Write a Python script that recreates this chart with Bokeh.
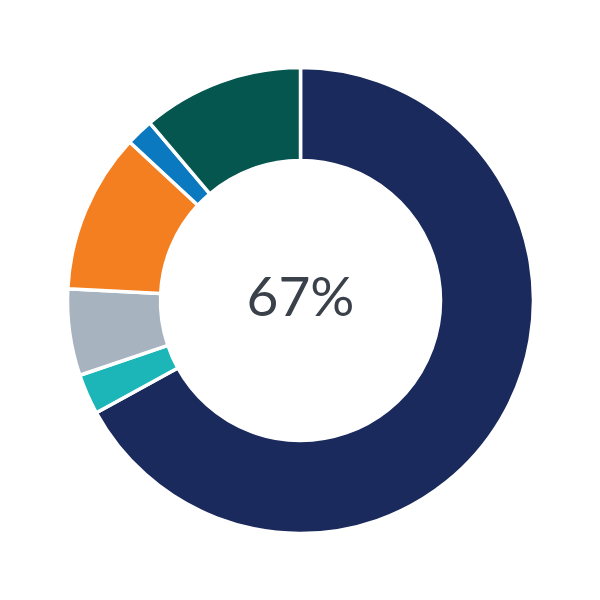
import numpy as np
from bokeh.plotting import figure
from bokeh.models import ColumnDataSource
from bokeh.core.properties import value
from bokeh.embed import file_html
from bokeh.resources import INLINE

categories = ["Navy", "Teal", "Gray", "Orange", "Blue", "Green"]
shares = [67.0, 2.8, 6.0, 11.1, 1.9, 11.2]
colors = ["#1b2a5c", "#1cb5b8", "#a8b3c0", "#f47f20", "#0a79bf", "#04564f"]
center_label = "67%"

vals = np.array(shares)
frac = vals / vals.sum()
cum = np.concatenate([[0], np.cumsum(frac)])
start = np.pi / 2 - cum[:-1] * 2 * np.pi
end = np.pi / 2 - cum[1:] * 2 * np.pi

src = ColumnDataSource(dict(cat=categories, start=start, end=end, color=colors))

W = 584
p = figure(width=W, height=W, x_range=(-300, 284), y_range=(-284, 300),
           output_backend="svg", toolbar_location=None, min_border=0)
p.axis.visible = False
p.grid.visible = False
p.outline_line_color = None
p.background_fill_color = "white"

p.annular_wedge(x=0, y=0, inner_radius=140, outer_radius=233,
                start_angle="start", end_angle="end", direction="clock",
                fill_color="color", line_color="white", line_width=3.5, source=src)

p.text(x=[0], y=[6], text=[center_label], text_align="center", text_baseline="middle",
       text_font=value("Lato"), text_font_size="55px", text_color="#3a414a")

open("out.html", "w").write(file_html(p, INLINE))
